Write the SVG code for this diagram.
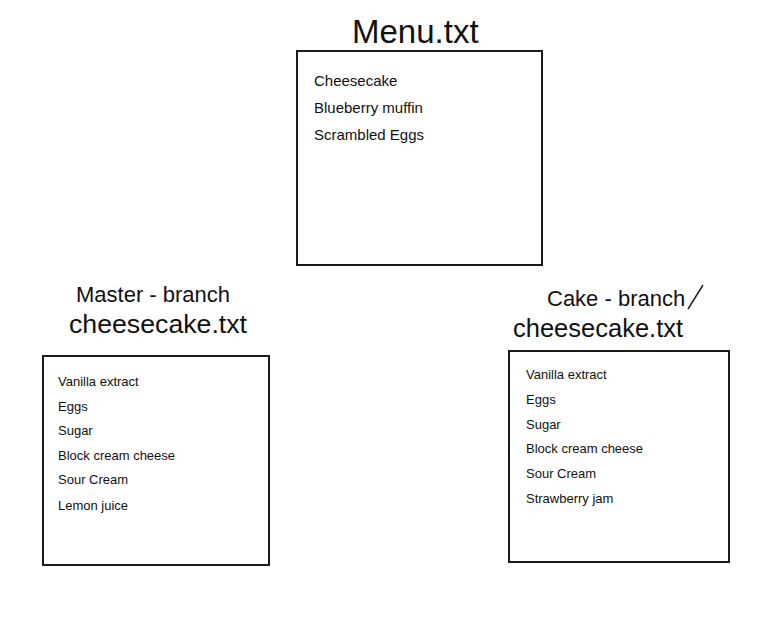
<svg xmlns="http://www.w3.org/2000/svg" width="773" height="634" viewBox="0 0 773 634">
<style>
.box{fill:#fff;stroke:#1a1a1a;stroke-width:2}
text{font-family:"Liberation Sans",Arial,sans-serif;fill:#111}
.title{font-size:33px}
.head{font-size:22px}
.file{font-size:26.7px}
.file2{font-size:25.5px}
.item{font-size:15px}
.small{font-size:13px}
</style>
<rect width="773" height="634" fill="#fff"/>
<g id="menu">
<text class="title" x="352" y="43">Menu.txt</text>
<rect class="box" x="297" y="51" width="245" height="214"/>
<text class="item" x="314" y="86">Cheesecake</text>
<text class="item" x="314" y="113">Blueberry muffin</text>
<text class="item" x="314" y="140">Scrambled Eggs</text>
</g>
<g id="master">
<text class="head" x="76" y="302">Master - branch</text>
<text class="file" x="69" y="333">cheesecake.txt</text>
<rect class="box" x="43" y="356" width="226" height="209"/>
<text class="small" x="58" y="386">Vanilla extract</text>
<text class="small" x="58" y="411">Eggs</text>
<text class="small" x="58" y="435">Sugar</text>
<text class="small" x="58" y="460">Block cream cheese</text>
<text class="small" x="58" y="484">Sour Cream</text>
<text class="small" x="58" y="510">Lemon juice</text>
</g>
<g id="cake">
<text class="head" x="547" y="306">Cake - branch</text>
<line x1="688" y1="309" x2="703" y2="285" stroke="#222" stroke-width="1.5"/>
<text class="file2" x="513" y="337">cheesecake.txt</text>
<rect class="box" x="509" y="351" width="220" height="211"/>
<text class="small" x="526" y="379">Vanilla extract</text>
<text class="small" x="526" y="404">Eggs</text>
<text class="small" x="526" y="429">Sugar</text>
<text class="small" x="526" y="453">Block cream cheese</text>
<text class="small" x="526" y="478">Sour Cream</text>
<text class="small" x="526" y="503">Strawberry jam</text>
</g>
<g id="connectors"></g>
</svg>
